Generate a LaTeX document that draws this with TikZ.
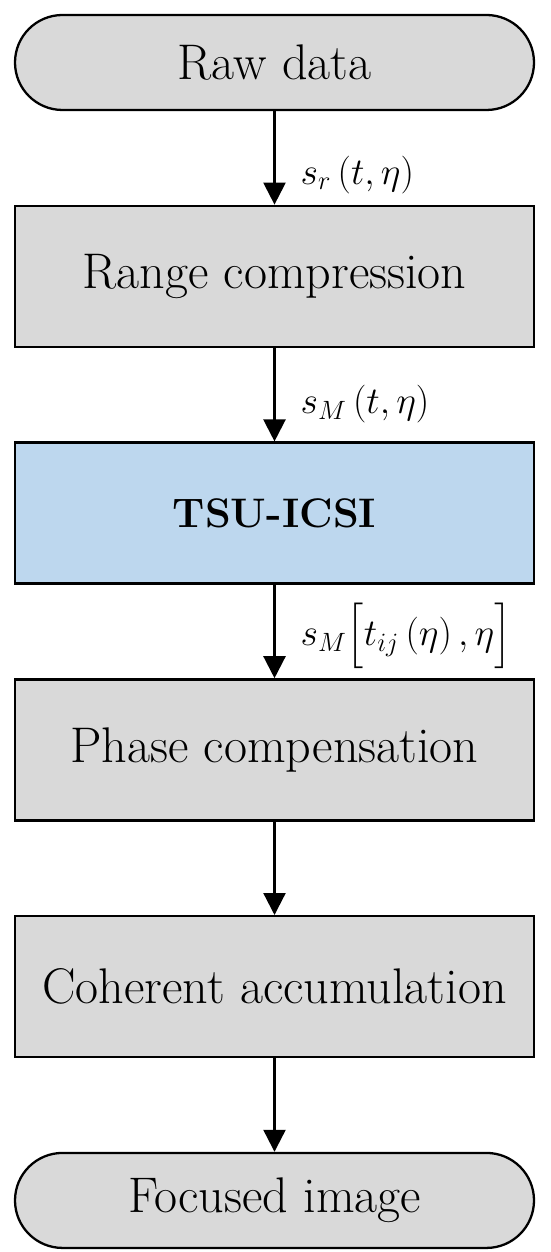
\RequirePackage{fix-cm}
\documentclass[tikz,border=0pt]{standalone}
\usepackage{amsmath}
\usetikzlibrary{positioning,arrows.meta}
\definecolor{boxgray}{HTML}{D9D9D9}
\definecolor{boxblue}{HTML}{BDD7EE}

\begin{document}
\begin{tikzpicture}[
    node distance = 1.87cm,
    every node/.style = {font=\fontsize{28.5}{32}\selectfont},
    term/.style = {draw, line width=1.3pt, fill=boxgray, minimum width=10.38cm, minimum height=1.9cm, rounded corners=0.95cm},
    stage/.style = {draw, line width=1.3pt, fill=boxgray, minimum width=10.38cm, minimum height=2.82cm},
    flow/.style = {line width=1.3pt, -{Triangle[length=0.44cm, width=0.44cm]}},
    sig/.style = {right=0.5cm, inner sep=0pt, font=\fontsize{21.5}{24}\selectfont}
]
    \useasboundingbox (0,0) rectangle (11,-25.04);
    % blocks
    \node[term] (raw) at (5.49,-1.25) {Raw data};
    \node[stage, below=of raw] (range) {Range compression};
    \node[stage, fill=boxblue, below=of range, font=\fontsize{23.5}{28}\selectfont\bfseries] (tsu) {TSU-ICSI};
    \node[stage, below=of tsu] (phase) {Phase compensation};
    \node[stage, below=of phase] (coh) {Coherent accumulation};
    \node[term, below=of coh] (img) {Focused image};
    % signal flow
    \draw[flow] (raw) -- node[sig, pos=0.68] {$s_{r}\left(t,\eta\right)$} (range);
    \draw[flow] (range) -- node[sig, pos=0.6] {$s_{M}\left(t,\eta\right)$} (tsu);
    \draw[flow] (tsu) -- node[sig, pos=0.55] {$s_{M}\Bigl[t_{ij}\left(\eta\right),\eta\Bigr]$} (phase);
    \draw[flow] (phase) -- (coh);
    \draw[flow] (coh) -- (img);
\end{tikzpicture}
\end{document}
